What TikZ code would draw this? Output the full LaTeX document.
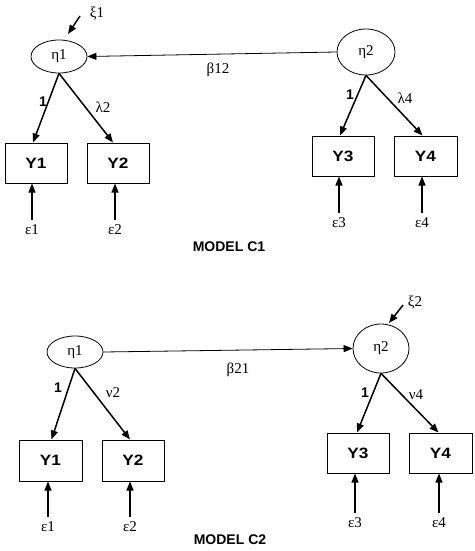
\documentclass[tikz,border=0pt]{standalone}
\usepackage{fontspec}
\setmainfont{Liberation Serif}
\setsansfont{Liberation Sans}
\usetikzlibrary{arrows.meta,shapes.geometric,calc}
\begin{document}
\begin{tikzpicture}[x=1pt,y=-1pt,
  latent/.style={draw, ellipse, line width=0.8pt, inner sep=0pt, font=\fontsize{15}{17}\selectfont},
  obs/.style={draw, rectangle, line width=1pt, minimum width=62pt, minimum height=40pt, inner sep=0pt, font=\sffamily\bfseries\fontsize{15}{17}\selectfont\addfontfeatures{FakeStretch=1.15}},
  greek/.style={inner sep=0pt, font=\fontsize{15}{17}\selectfont},
  one/.style={inner sep=0pt, font=\sffamily\bfseries\fontsize{14}{16}\selectfont},
  title/.style={inner sep=0pt, font=\sffamily\bfseries\fontsize{14}{16}\selectfont},
  load/.style={line width=1.5pt, -{Triangle[length=9pt,width=7pt]}},
  err/.style={line width=1.2pt, -{Triangle[length=9pt,width=7pt]}},
  path/.style={line width=0.8pt, -{Triangle[length=9pt,width=7pt]}}]
\useasboundingbox (0,0) rectangle (474,551);
% ---------- MODEL C1 ----------
\node[latent, minimum width=56pt, minimum height=33pt] (eA) at (59,56.5) {η1};
\node[latent, minimum width=58pt, minimum height=46pt] (eB) at (366,52) {η2};
\node[obs] (y1) at (36,163) {Y1};
\node[obs] (y2) at (118,163) {Y2};
\node[obs] (y3) at (343,156) {Y3};
\node[obs, minimum width=63pt] (y4) at (425.5,156) {Y4};
\node[greek] (xi1) at (97,14) {ξ1};
\coordinate (xi1s) at (80,16);
\coordinate (xi1e) at (68,34);
\draw[load] (xi1s) -- (xi1e);
\draw[path] (eB.west) -- (eA.east);
\node[greek] (b12) at (218,70) {β12};
\draw[load] (eA.south) -- ($(y1.north)+(-3,0)$);
\draw[load] (eA.south) -- ($(y2.north)+(-5,0)$);
\node[one] (l1) at (43,102) {1};
\node[greek] (l2) at (103,107) {λ2};
\draw[load] (eB.south) -- ($(y3.north)+(-3,0)$);
\draw[load] (eB.south) -- ($(y4.north)+(-3,0)$);
\node[one] (l3) at (350,95) {1};
\node[greek] (l4) at (405,98) {λ4};
\node[greek] (ep1) at (32,230) {ε1};
\node[greek] (ep2) at (115,230) {ε2};
\node[greek] (ep3) at (339,223) {ε3};
\node[greek] (ep4) at (422,223) {ε4};
\draw[err] ($(ep1.north)+(0,-5)$) -- (ep1.north |- y1.south);
\draw[err] ($(ep2.north)+(0,-5)$) -- (ep2.north |- y2.south);
\draw[err] ($(ep3.north)+(0,-5)$) -- (ep3.north |- y3.south);
\draw[err] ($(ep4.north)+(0,-5)$) -- (ep4.north |- y4.south);
\node[title] (m1) at (229,247) {MODEL C1};
% ---------- MODEL C2 ----------
\node[latent, minimum width=56pt, minimum height=32pt] (fA) at (75,352) {η1};
\node[latent, minimum width=56pt, minimum height=49pt] (fB) at (381,348.5) {η2};
\node[obs, minimum width=63pt, minimum height=41pt] (z1) at (50.5,460.5) {Y1};
\node[obs, minimum height=41pt] (z2) at (133,460.5) {Y2};
\node[obs] (z3) at (358,453) {Y3};
\node[obs, minimum width=63pt] (z4) at (440.5,453) {Y4};
\node[greek] (xi2) at (415,303) {ξ2};
\coordinate (xi2s) at (403,305);
\coordinate (xi2e) at (389,323);
\draw[load] (xi2s) -- (xi2e);
\draw[path] (fA.east) -- (fB.west);
\node[greek] (b21) at (238,370) {β21};
\draw[load] (fA.south) -- ($(z1.north)+(1,0)$);
\draw[load] (fA.south) -- ($(z2.north)+(-3,0)$);
\node[one] (k1) at (58,388) {1};
\node[greek] (k2) at (113,393) {ν2};
\draw[load] (fB.south) -- ($(z3.north)+(-1,0)$);
\draw[load] (fB.south) -- ($(z4.north)+(-2,0)$);
\node[one] (k3) at (365,393) {1};
\node[greek] (k4) at (416,395) {ν4};
\node[greek] (fp1) at (48,527) {ε1};
\node[greek] (fp2) at (130,527) {ε2};
\node[greek] (fp3) at (355,523) {ε3};
\node[greek] (fp4) at (439,523) {ε4};
\draw[err] ($(fp1.north)+(0,-5)$) -- (fp1.north |- z1.south);
\draw[err] ($(fp2.north)+(0,-5)$) -- (fp2.north |- z2.south);
\draw[err] ($(fp3.north)+(0,-5)$) -- (fp3.north |- z3.south);
\draw[err] ($(fp4.north)+(0,-5)$) -- (fp4.north |- z4.south);
\node[title] (m2) at (230,540) {MODEL C2};
\end{tikzpicture}
\end{document}
